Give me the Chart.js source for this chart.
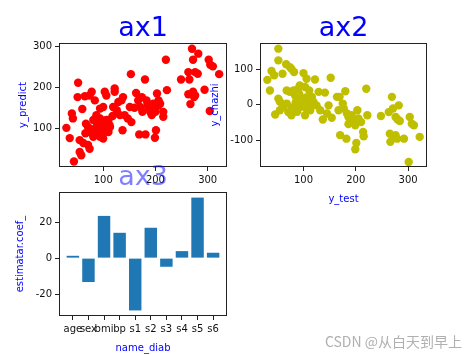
<!DOCTYPE html>
<html><head><meta charset="utf-8">
<script src="https://cdn.jsdelivr.net/npm/chart.js@4"></script>
<style>
html,body{margin:0;padding:0;background:#fff;width:474px;height:355px;overflow:hidden}
canvas{position:absolute;left:0;top:0}
</style></head><body>
<canvas id="c1" width="474" height="355"></canvas>
<canvas id="c2" width="474" height="355"></canvas>
<canvas id="c3" width="474" height="355"></canvas>
<script>
// ---- data ----
const ax1X = [29.5,36,44,52,51,40,42,55,55,58,60,65,74,78,84,67,71,74,71,74,81,84,87,94,90,94,97,100,103,106,94,100,103,106,110,113,110,100,81,87,119,122,122,129,135,138,126,132,141,147,151,153,154,137,163,167,169,171,174,180,181,183,186,190,193,196,199,203,206,201,199,209,215,215,220,222,249,263,265,267,263,272,274,270,272,276,281,282,294,302,305,310,322,304,276,85,92,78,88,96,104,66,62,112,118,160,175,185,195,205,200];
const ax1Y = [101,76,19,211,176,136,124,71,42,34,147,178,180,189,168,111,103,91,59,50,79,95,115,124,91,79,103,87,111,120,148,152,189,180,120,103,91,75,120,132,152,197,189,164,168,176,144,132,132,124,152,232,115,95,186,168,85,152,176,219,85,168,152,140,132,160,148,185,168,95,77,160,128,140,267,193,219,237,219,159,183,189,176,294,267,237,233,282,194,267,255,251,232,142,180,100,108,96,84,96,98,88,64,108,130,150,140,160,150,155,140];
const ax2X = [52,52,31,39,44,36,60,67,74,77,82,100,106,122,152,68,74,81,84,90,93,103,111,116,129,141,52,55,46,55,61,68,71,77,81,87,93,100,103,106,109,113,119,125,132,137,145,148,154,164,169,180,175,167,177,183,186,189,192,196,199,203,205,210,186,214,215,220,222,170,182,201,199,248,263,269,271,276,280,282,284,265,271,266,276,279,292,303,307,311,322,301,85,95,78,88,98,105,115,92];
const ax2Y = [158,125,70,95,83,40,87,114,106,101,92,89,73,71,76,40,36,40,26,45,54,50,40,22,36,34,17,8,-28,-16,-7,3,-21,-30,-7,12,-7,3,-30,-11,12,-16,8,-2,-16,-42,-25,-2,-37,22,22,38,3,-16,-11,-25,-35,-44,-30,-49,-58,-16,-39,-49,-55,-77,-89,45,-30,-86,-96,-108,-126,-32,-21,22,-11,-35,-42,-2,-46,-82,-89,-105,-86,-96,-96,-35,-54,-58,-91,-162,5,15,-12,-20,-5,20,0,30];
const barLabels = ['age','sex','bmi','bp','s1','s2','s3','s4','s5','s6'];
const barValues = [1.3,-13.3,23.5,14.1,-29.1,16.9,-4.8,3.9,33.7,3.0];
const ax1XTicks = [100,200,300];
const ax1YTicks = [100,200,300];
const ax2XTicks = [100,200,300];
const ax2YTicks = [-100,0,100];
const ax3YTicks = [-20,0,20];

const FONT = 'DejaVu Sans';
function axis(pos, min, max, ticks, cb) {
  return {
    type: 'linear', position: pos, min: min, max: max, offset: false,
    afterBuildTicks: s => { s.ticks = ticks.map(v => ({value: v})); },
    afterFit: s => { if (pos === 'left') s.width = 40; else s.height = 22; },
    grid: {display: true, drawOnChartArea: false, drawTicks: true, tickLength: 4, color: '#222', offset: false},
    border: {display: false},
    ticks: {color: '#111', font: {family: FONT, size: 10}, padding: 3, autoSkip: false,
            maxRotation: 0, minRotation: 0, callback: cb || (v => String(v))}
  };
}
function deco(items) {
  return {
    id: 'deco',
    afterDatasetsDraw(chart) {
      const a = chart.chartArea, c = chart.ctx;
      c.save();
      c.strokeStyle = '#222'; c.lineWidth = 1;
      c.strokeRect(Math.round(a.left) + 0.5, Math.round(a.top) + 0.5,
                   Math.round(a.right - a.left) - 1, Math.round(a.bottom - a.top) - 1);
      c.restore();
    },
    afterDraw(chart) {
      const a = chart.chartArea, c = chart.ctx;
      const cx = (a.left + a.right) / 2, cy = (a.top + a.bottom) / 2;
      items(a, cx, cy).forEach(t => {
        c.save();
        c.font = t.font; c.fillStyle = t.color;
        c.textAlign = t.align || 'center'; c.textBaseline = t.base || 'middle';
        c.translate(t.x, t.y);
        if (t.rot) c.rotate(t.rot);
        c.fillText(t.text, 0, 0);
        c.restore();
      });
    }
  };
}
const common = {responsive: false, animation: false, events: [],
  plugins: {legend: {display: false}, tooltip: {enabled: false}, title: {display: false}}};

new Chart(document.getElementById('c1'), {
  type: 'scatter',
  data: {datasets: [{data: ax1X.map((x, i) => ({x: x, y: ax1Y[i]})),
    backgroundColor: '#ff0000', borderWidth: 0, pointRadius: 4.2}]},
  options: Object.assign({}, common, {
    layout: {padding: {left: 19, top: 43, right: 247, bottom: 166}},
    scales: {x: axis('bottom', 15.4, 337, ax1XTicks), y: axis('left', 5.5, 308, ax1YTicks)}
  }),
  plugins: [deco((a, cx, cy) => [
    {text: 'ax1', x: cx, y: a.top - 7, font: '27px ' + FONT, color: '#0000ff', base: 'alphabetic'},
    {text: 'y_predict', x: a.left - 36, y: cy, font: '10px ' + FONT, color: '#0000ff', rot: -Math.PI / 2}
  ])]
});

new Chart(document.getElementById('c2'), {
  type: 'scatter',
  data: {datasets: [{data: ax2X.map((x, i) => ({x: x, y: ax2Y[i]})),
    backgroundColor: '#bfbf00', borderWidth: 0, pointRadius: 4.2}]},
  options: Object.assign({}, common, {
    layout: {padding: {left: 220, top: 43, right: 47, bottom: 166}},
    scales: {x: axis('bottom', 17, 336, ax2XTicks), y: axis('left', -176, 174, ax2YTicks)}
  }),
  plugins: [deco((a, cx, cy) => [
    {text: 'ax2', x: cx, y: a.top - 7, font: '27px ' + FONT, color: '#0000ff', base: 'alphabetic'},
    {text: 'y_chazhi', x: a.left - 45, y: cy, font: '10px ' + FONT, color: '#0000ff', rot: -Math.PI / 2},
    {text: 'y_test', x: cx, y: a.bottom + 32, font: '10px ' + FONT, color: '#0000ff'}
  ])]
});

new Chart(document.getElementById('c3'), {
  type: 'bar',
  data: {datasets: [{data: barValues.map((v, i) => ({x: i, y: v})),
    backgroundColor: '#1f77b4', borderWidth: 0, barPercentage: 0.8, categoryPercentage: 1.0}]},
  options: Object.assign({}, common, {
    layout: {padding: {left: 19, top: 192, right: 247, bottom: 17}},
    scales: {x: axis('bottom', -0.89, 9.89, barLabels.map((_, i) => i), v => barLabels[v]),
             y: axis('left', -32.2, 36.8, ax3YTicks)}
  }),
  plugins: [deco((a, cx, cy) => [
    {text: 'ax3', x: cx, y: a.top - 7, font: '27px ' + FONT, color: 'rgba(0,0,255,0.5)', base: 'alphabetic'},
    {text: 'estimatar.coef_', x: a.left - 39, y: cy, font: '10px ' + FONT, color: '#0000ff', rot: -Math.PI / 2},
    {text: 'name_diab', x: cx, y: a.bottom + 32, font: '10px ' + FONT, color: '#0000ff'},
    {text: 'CSDN @从白天到早上', x: 462, y: 347, font: '14px "Noto Sans CJK SC"', color: '#b0b0b0', align: 'right', base: 'alphabetic'}
  ])]
});
</script>
</body></html>
